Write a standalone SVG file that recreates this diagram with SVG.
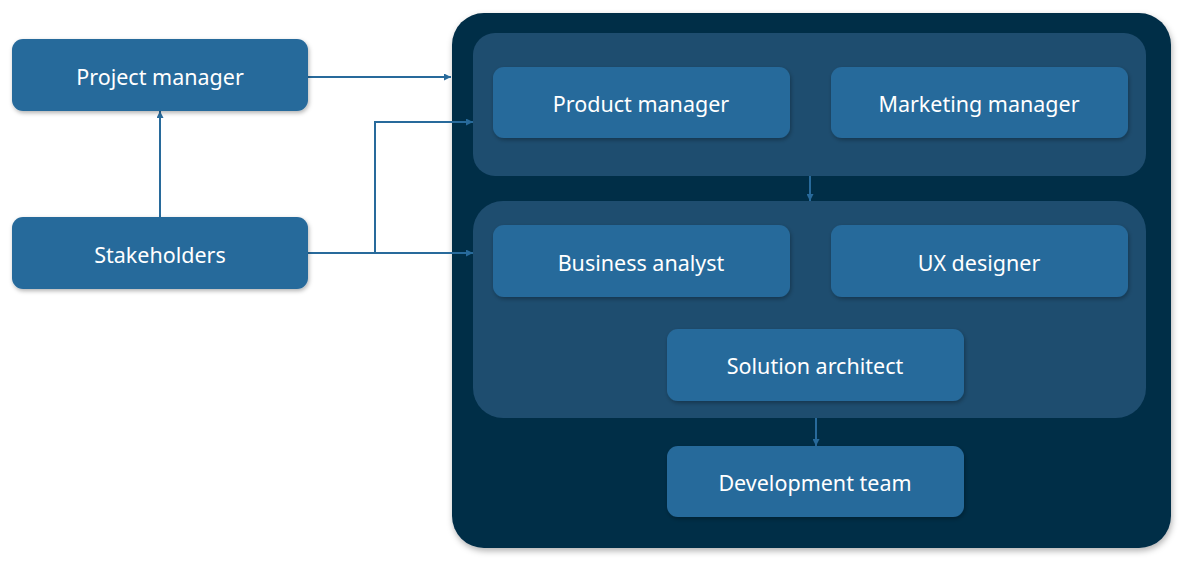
<svg xmlns="http://www.w3.org/2000/svg" width="1181" height="566" viewBox="0 0 1181 566">
<style>
.node{fill:#286a9b;filter:url(#sh)}
.lbl{font-family:"Noto Sans","Liberation Sans",sans-serif;font-size:21.5px;fill:#ffffff;text-anchor:middle;dominant-baseline:central}
.grp{fill:#1e4d6f}
.conn{fill:none;stroke:#286a9b;stroke-width:2;marker-end:url(#ah)}
</style>
<defs>
<filter id="sh" x="-10%" y="-20%" width="120%" height="150%">
<feDropShadow dx="1" dy="2" stdDeviation="2" flood-color="#000" flood-opacity="0.3"/>
</filter>
<filter id="sh2" x="-5%" y="-5%" width="110%" height="110%">
<feDropShadow dx="1" dy="3" stdDeviation="3" flood-color="#000" flood-opacity="0.3"/>
</filter>
<marker id="ah" viewBox="0 0 10 10" refX="10" refY="5" markerWidth="8" markerHeight="7" orient="auto" markerUnits="userSpaceOnUse">
<path d="M0,0 L10,5 L0,10 z" fill="#286a9b"/>
</marker>
</defs>
<g id="container">
<rect x="452" y="13" width="719" height="535" rx="32" fill="#002d47" filter="url(#sh2)"/>
</g>
<g id="group-management"><rect class="grp" x="473" y="33" width="673" height="143" rx="22"/></g>
<g id="group-analysis"><rect class="grp" x="473" y="201" width="673" height="217" rx="30"/></g>
<g id="connectors">
<path class="conn" d="M308,77 H451"/>
<path class="conn" d="M160,217 V111"/>
<path class="conn" d="M308,253 H473"/>
<path class="conn" d="M375,253 V122 H473"/>
<path class="conn" d="M810,176 V201"/>
<path class="conn" d="M816,418 V446"/>
</g>
<g id="project-manager"><rect class="node" x="12" y="39" width="296" height="72" rx="11"/><text class="lbl" x="160" y="76">Project manager</text></g>
<g id="stakeholders"><rect class="node" x="12" y="217" width="296" height="72" rx="11"/><text class="lbl" x="160" y="254">Stakeholders</text></g>
<g id="product-manager"><rect class="node" x="493" y="67" width="297" height="71" rx="11"/><text class="lbl" x="641" y="103">Product manager</text></g>
<g id="marketing-manager"><rect class="node" x="831" y="67" width="297" height="71" rx="11"/><text class="lbl" x="979" y="103">Marketing manager</text></g>
<g id="business-analyst"><rect class="node" x="493" y="225" width="297" height="72" rx="11"/><text class="lbl" x="641" y="262">Business analyst</text></g>
<g id="ux-designer"><rect class="node" x="831" y="225" width="297" height="72" rx="11"/><text class="lbl" x="979" y="262">UX designer</text></g>
<g id="solution-architect"><rect class="node" x="667" y="329" width="297" height="72" rx="11"/><text class="lbl" x="815" y="365">Solution architect</text></g>
<g id="development-team"><rect class="node" x="667" y="446" width="297" height="71" rx="11"/><text class="lbl" x="815" y="482">Development team</text></g>
</svg>
